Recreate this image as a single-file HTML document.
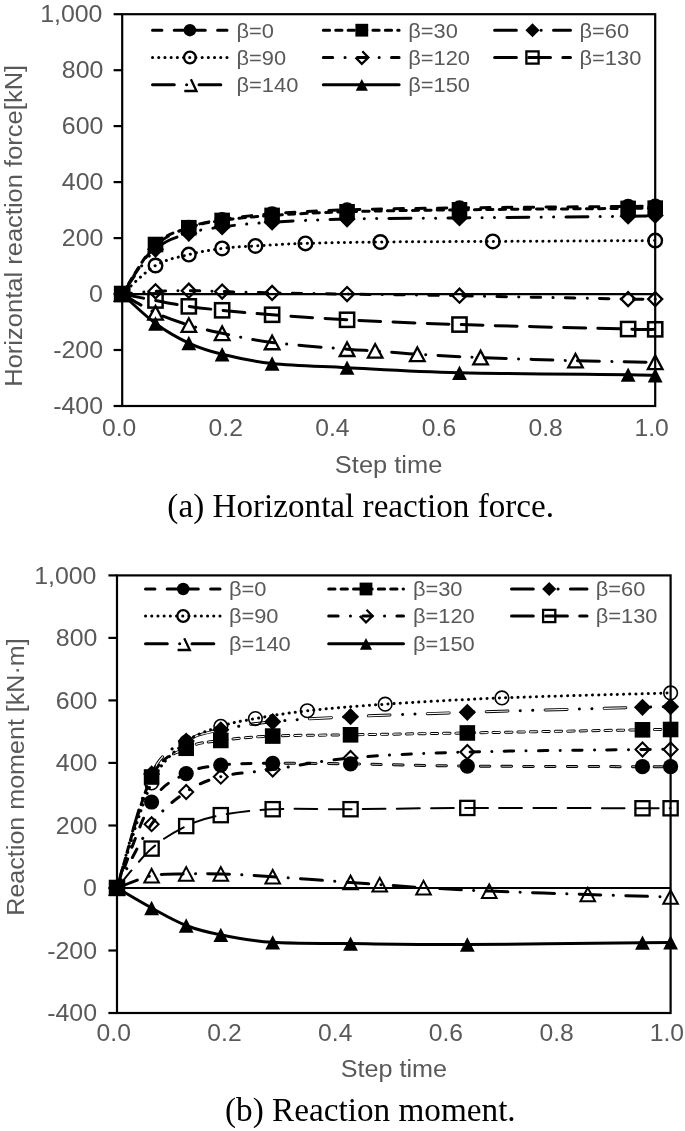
<!DOCTYPE html>
<html lang="en"><head><meta charset="utf-8"><title>Reaction force and moment</title>
<style>
html,body{margin:0;padding:0;background:#fff;}
body{width:685px;height:1131px;overflow:hidden;font-family:"Liberation Sans",sans-serif;}
svg{display:block;}
text{white-space:pre;}
</style></head><body>
<svg width="685" height="1131" viewBox="0 0 685 1131">
<rect width="685" height="1131" fill="#fff"/>
<g id="chart-a">
<rect x="122.2" y="14.2" width="533.0" height="391.8" fill="none" stroke="#000" stroke-width="2.2"/>
<line x1="113.6" y1="14.2" x2="122.2" y2="14.2" stroke="#000" stroke-width="2.2"/>
<text x="40.17" y="22.3" font-size="23.5" fill="#595959" font-family="'Liberation Sans', sans-serif" textLength="62.3" lengthAdjust="spacingAndGlyphs">1,000</text>
<line x1="113.6" y1="70.2" x2="122.2" y2="70.2" stroke="#000" stroke-width="2.2"/>
<text x="61.83" y="78.3" font-size="23.5" fill="#595959" font-family="'Liberation Sans', sans-serif" textLength="41.6" lengthAdjust="spacingAndGlyphs">800</text>
<line x1="113.6" y1="126.1" x2="122.2" y2="126.1" stroke="#000" stroke-width="2.2"/>
<text x="61.83" y="134.2" font-size="23.5" fill="#595959" font-family="'Liberation Sans', sans-serif" textLength="41.6" lengthAdjust="spacingAndGlyphs">600</text>
<line x1="113.6" y1="182.1" x2="122.2" y2="182.1" stroke="#000" stroke-width="2.2"/>
<text x="61.83" y="190.2" font-size="23.5" fill="#595959" font-family="'Liberation Sans', sans-serif" textLength="41.6" lengthAdjust="spacingAndGlyphs">400</text>
<line x1="113.6" y1="238.1" x2="122.2" y2="238.1" stroke="#000" stroke-width="2.2"/>
<text x="61.83" y="246.2" font-size="23.5" fill="#595959" font-family="'Liberation Sans', sans-serif" textLength="41.6" lengthAdjust="spacingAndGlyphs">200</text>
<line x1="113.6" y1="294.1" x2="122.2" y2="294.1" stroke="#000" stroke-width="2.2"/>
<text x="88.90" y="302.2" font-size="23.5" fill="#595959" font-family="'Liberation Sans', sans-serif" textLength="13.9" lengthAdjust="spacingAndGlyphs">0</text>
<line x1="113.6" y1="350.0" x2="122.2" y2="350.0" stroke="#000" stroke-width="2.2"/>
<text x="53.16" y="358.1" font-size="23.5" fill="#595959" font-family="'Liberation Sans', sans-serif" textLength="49.9" lengthAdjust="spacingAndGlyphs">-200</text>
<line x1="113.6" y1="406.0" x2="122.2" y2="406.0" stroke="#000" stroke-width="2.2"/>
<text x="53.16" y="414.1" font-size="23.5" fill="#595959" font-family="'Liberation Sans', sans-serif" textLength="49.9" lengthAdjust="spacingAndGlyphs">-400</text>
<text x="102.03" y="436.4" font-size="23.5" fill="#595959" font-family="'Liberation Sans', sans-serif" textLength="34.3" lengthAdjust="spacingAndGlyphs">0.0</text>
<text x="208.63" y="436.4" font-size="23.5" fill="#595959" font-family="'Liberation Sans', sans-serif" textLength="34.3" lengthAdjust="spacingAndGlyphs">0.2</text>
<text x="315.23" y="436.4" font-size="23.5" fill="#595959" font-family="'Liberation Sans', sans-serif" textLength="34.3" lengthAdjust="spacingAndGlyphs">0.4</text>
<text x="421.83" y="436.4" font-size="23.5" fill="#595959" font-family="'Liberation Sans', sans-serif" textLength="34.3" lengthAdjust="spacingAndGlyphs">0.6</text>
<text x="528.43" y="436.4" font-size="23.5" fill="#595959" font-family="'Liberation Sans', sans-serif" textLength="34.3" lengthAdjust="spacingAndGlyphs">0.8</text>
<text x="634.50" y="436.4" font-size="23.5" fill="#595959" font-family="'Liberation Sans', sans-serif" textLength="34.3" lengthAdjust="spacingAndGlyphs">1.0</text>
<line x1="122.2" y1="294.1" x2="655.2" y2="294.1" stroke="#000" stroke-width="2.2"/>
<text x="334.89" y="472.6" font-size="23" fill="#595959" font-family="'Liberation Sans', sans-serif" textLength="107.4" lengthAdjust="spacingAndGlyphs">Step time</text>
<text x="22.3" y="386.8" font-size="23" fill="#595959" font-family="'Liberation Sans', sans-serif" textLength="322.0" lengthAdjust="spacingAndGlyphs" transform="rotate(-90 22.3 386.8)">Horizontal reaction force[kN]</text>
<g fill="none" stroke="#000" stroke-width="3.0" stroke-linecap="round" stroke-dasharray="9.40 12.30"><path d="M122.20 294.06C127.75 286.03 144.41 257.02 155.51 245.92C166.62 234.82 177.72 231.84 188.82 227.45C199.93 223.07 208.26 221.90 222.14 219.62C236.02 217.33 251.29 215.37 272.11 213.74C292.93 212.11 315.83 210.80 347.06 209.82C378.29 208.84 412.64 208.42 459.49 207.86C506.33 207.30 595.52 206.74 628.13 206.46C660.75 206.18 650.69 206.23 655.20 206.18"/></g>
<circle cx="122.20" cy="294.06" r="7.60" fill="#000"/>
<circle cx="155.51" cy="245.92" r="7.60" fill="#000"/>
<circle cx="188.82" cy="227.45" r="7.60" fill="#000"/>
<circle cx="222.14" cy="219.62" r="7.60" fill="#000"/>
<circle cx="272.11" cy="213.74" r="7.60" fill="#000"/>
<circle cx="347.06" cy="209.82" r="7.60" fill="#000"/>
<circle cx="459.49" cy="207.86" r="7.60" fill="#000"/>
<circle cx="628.13" cy="206.46" r="7.60" fill="#000"/>
<circle cx="655.20" cy="206.18" r="7.60" fill="#000"/>
<g fill="none" stroke="#000" stroke-width="3.0" stroke-linecap="round" stroke-dasharray="6.30 6.10"><path d="M122.20 294.06C127.75 285.80 144.41 255.58 155.51 244.52C166.62 233.47 177.72 231.74 188.82 227.73C199.93 223.72 208.26 222.51 222.14 220.45C236.02 218.40 251.29 216.86 272.11 215.42C292.93 213.97 315.83 212.71 347.06 211.78C378.29 210.85 412.64 210.38 459.49 209.82C506.33 209.26 595.52 208.70 628.13 208.42C660.75 208.14 650.69 208.19 655.20 208.14"/></g>
<rect x="114.40" y="286.26" width="15.60" height="15.60" fill="#000"/>
<rect x="147.71" y="236.72" width="15.60" height="15.60" fill="#000"/>
<rect x="181.02" y="219.93" width="15.60" height="15.60" fill="#000"/>
<rect x="214.34" y="212.65" width="15.60" height="15.60" fill="#000"/>
<rect x="264.31" y="207.62" width="15.60" height="15.60" fill="#000"/>
<rect x="339.26" y="203.98" width="15.60" height="15.60" fill="#000"/>
<rect x="451.69" y="202.02" width="15.60" height="15.60" fill="#000"/>
<rect x="620.33" y="200.62" width="15.60" height="15.60" fill="#000"/>
<rect x="647.40" y="200.34" width="15.60" height="15.60" fill="#000"/>
<g fill="none" stroke="#000" stroke-width="3.0" stroke-linecap="round" stroke-dasharray="21.80 12.30 0.10 12.30 0.10 12.30"><path d="M122.20 294.06C127.75 286.59 144.41 259.40 155.51 249.28C166.62 239.16 177.72 237.06 188.82 233.33C199.93 229.60 208.26 228.76 222.14 226.89C236.02 225.03 251.29 223.44 272.11 222.13C292.93 220.83 315.83 219.76 347.06 219.06C378.29 218.36 412.64 218.40 459.49 217.94C506.33 217.47 595.52 216.68 628.13 216.26C660.75 215.84 650.69 215.56 655.20 215.42"/></g>
<path d="M113.60 294.06L122.20 285.46L130.80 294.06L122.20 302.66Z" fill="#000"/>
<path d="M146.91 249.28L155.51 240.68L164.11 249.28L155.51 257.88Z" fill="#000"/>
<path d="M180.22 233.33L188.82 224.73L197.42 233.33L188.82 241.93Z" fill="#000"/>
<path d="M213.54 226.89L222.14 218.29L230.74 226.89L222.14 235.49Z" fill="#000"/>
<path d="M263.51 222.13L272.11 213.53L280.71 222.13L272.11 230.73Z" fill="#000"/>
<path d="M338.46 219.06L347.06 210.46L355.66 219.06L347.06 227.66Z" fill="#000"/>
<path d="M450.89 217.94L459.49 209.34L468.09 217.94L459.49 226.54Z" fill="#000"/>
<path d="M619.53 216.26L628.13 207.66L636.73 216.26L628.13 224.86Z" fill="#000"/>
<path d="M646.60 215.42L655.20 206.82L663.80 215.42L655.20 224.02Z" fill="#000"/>
<g fill="none" stroke="#000" stroke-width="3.0" stroke-linecap="round" stroke-dasharray="0.10 6.10"><path d="M122.20 294.06C127.75 289.30 144.41 272.09 155.51 265.51C166.62 258.94 177.72 257.44 188.82 254.60C199.93 251.75 211.03 249.89 222.14 248.44C233.24 246.99 241.57 246.76 255.45 245.92C269.33 245.08 284.60 244.06 305.42 243.40C326.24 242.75 349.14 242.33 380.37 242.00C411.60 241.68 447.00 241.68 492.80 241.44C538.61 241.21 628.13 240.74 655.20 240.60"/></g>
<circle cx="122.20" cy="294.06" r="6.80" fill="none" stroke="#000" stroke-width="2.4"/>
<circle cx="155.51" cy="265.51" r="6.80" fill="none" stroke="#000" stroke-width="2.4"/>
<circle cx="188.82" cy="254.60" r="6.80" fill="none" stroke="#000" stroke-width="2.4"/>
<circle cx="222.14" cy="248.44" r="6.80" fill="none" stroke="#000" stroke-width="2.4"/>
<circle cx="255.45" cy="245.92" r="6.80" fill="none" stroke="#000" stroke-width="2.4"/>
<circle cx="305.42" cy="243.40" r="6.80" fill="none" stroke="#000" stroke-width="2.4"/>
<circle cx="380.37" cy="242.00" r="6.80" fill="none" stroke="#000" stroke-width="2.4"/>
<circle cx="492.80" cy="241.44" r="6.80" fill="none" stroke="#000" stroke-width="2.4"/>
<circle cx="655.20" cy="240.60" r="6.80" fill="none" stroke="#000" stroke-width="2.4"/>
<g fill="none" stroke="#000" stroke-width="3.0" stroke-linecap="round" stroke-dasharray="9.40 12.30 0.10 12.30"><path d="M122.20 294.06C127.75 293.59 144.41 291.82 155.51 291.26C166.62 290.70 177.72 290.65 188.82 290.70C199.93 290.75 208.26 291.17 222.14 291.54C236.02 291.91 251.29 292.52 272.11 292.94C292.93 293.36 315.83 293.59 347.06 294.06C378.29 294.52 412.64 294.90 459.49 295.74C506.33 296.58 595.52 298.53 628.13 299.09C660.75 299.65 650.69 299.09 655.20 299.09"/></g>
<path d="M115.20 294.06L122.20 287.06L129.20 294.06L122.20 301.06Z" fill="none" stroke="#000" stroke-width="2.3"/>
<path d="M148.51 291.26L155.51 284.26L162.51 291.26L155.51 298.26Z" fill="none" stroke="#000" stroke-width="2.3"/>
<path d="M181.82 290.70L188.82 283.70L195.82 290.70L188.82 297.70Z" fill="none" stroke="#000" stroke-width="2.3"/>
<path d="M215.14 291.54L222.14 284.54L229.14 291.54L222.14 298.54Z" fill="none" stroke="#000" stroke-width="2.3"/>
<path d="M265.11 292.94L272.11 285.94L279.11 292.94L272.11 299.94Z" fill="none" stroke="#000" stroke-width="2.3"/>
<path d="M340.06 294.06L347.06 287.06L354.06 294.06L347.06 301.06Z" fill="none" stroke="#000" stroke-width="2.3"/>
<path d="M452.49 295.74L459.49 288.74L466.49 295.74L459.49 302.74Z" fill="none" stroke="#000" stroke-width="2.3"/>
<path d="M621.13 299.09L628.13 292.09L635.13 299.09L628.13 306.09Z" fill="none" stroke="#000" stroke-width="2.3"/>
<path d="M648.20 299.09L655.20 292.09L662.20 299.09L655.20 306.09Z" fill="none" stroke="#000" stroke-width="2.3"/>
<g fill="none" stroke="#000" stroke-width="3.0" stroke-linecap="round" stroke-dasharray="21.80 12.30"><path d="M122.20 294.06C127.75 295.13 144.41 298.44 155.51 300.49C166.62 302.55 177.72 304.74 188.82 306.37C199.93 308.00 208.26 308.89 222.14 310.29C236.02 311.69 251.29 313.18 272.11 314.77C292.93 316.35 315.83 318.17 347.06 319.80C378.29 321.44 412.64 323.02 459.49 324.56C506.33 326.10 595.52 328.25 628.13 329.04C660.75 329.83 650.69 329.27 655.20 329.32"/></g>
<rect x="115.10" y="286.96" width="14.20" height="14.20" fill="none" stroke="#000" stroke-width="2.5"/>
<rect x="148.41" y="293.39" width="14.20" height="14.20" fill="none" stroke="#000" stroke-width="2.5"/>
<rect x="181.72" y="299.27" width="14.20" height="14.20" fill="none" stroke="#000" stroke-width="2.5"/>
<rect x="215.04" y="303.19" width="14.20" height="14.20" fill="none" stroke="#000" stroke-width="2.5"/>
<rect x="265.01" y="307.67" width="14.20" height="14.20" fill="none" stroke="#000" stroke-width="2.5"/>
<rect x="339.96" y="312.70" width="14.20" height="14.20" fill="none" stroke="#000" stroke-width="2.5"/>
<rect x="452.39" y="317.46" width="14.20" height="14.20" fill="none" stroke="#000" stroke-width="2.5"/>
<rect x="621.03" y="321.94" width="14.20" height="14.20" fill="none" stroke="#000" stroke-width="2.5"/>
<rect x="648.10" y="322.22" width="14.20" height="14.20" fill="none" stroke="#000" stroke-width="2.5"/>
<g fill="none" stroke="#000" stroke-width="3.0" stroke-linecap="round" stroke-dasharray="21.80 12.30 0.10 12.30"><path d="M122.20 294.06C127.75 297.18 144.41 307.63 155.51 312.81C166.62 317.98 177.72 321.72 188.82 325.12C199.93 328.53 208.26 330.35 222.14 333.24C236.02 336.13 251.29 339.81 272.11 342.47C292.93 345.13 329.88 347.79 347.06 349.19C364.24 350.59 363.45 350.03 375.16 350.87C386.87 351.71 399.75 353.11 417.32 354.23C434.89 355.35 454.23 356.51 480.59 357.58C506.95 358.66 546.36 359.87 575.46 360.66C604.57 361.46 641.91 362.06 655.20 362.34"/></g>
<path d="M114.90 300.86L122.20 287.26L129.50 300.86Z" fill="none" stroke="#000" stroke-width="2.3" stroke-linejoin="miter"/>
<path d="M148.21 319.61L155.51 306.01L162.81 319.61Z" fill="none" stroke="#000" stroke-width="2.3" stroke-linejoin="miter"/>
<path d="M181.52 331.92L188.82 318.32L196.12 331.92Z" fill="none" stroke="#000" stroke-width="2.3" stroke-linejoin="miter"/>
<path d="M214.84 340.04L222.14 326.44L229.44 340.04Z" fill="none" stroke="#000" stroke-width="2.3" stroke-linejoin="miter"/>
<path d="M264.81 349.27L272.11 335.67L279.41 349.27Z" fill="none" stroke="#000" stroke-width="2.3" stroke-linejoin="miter"/>
<path d="M339.76 355.99L347.06 342.39L354.36 355.99Z" fill="none" stroke="#000" stroke-width="2.3" stroke-linejoin="miter"/>
<path d="M367.86 357.67L375.16 344.07L382.46 357.67Z" fill="none" stroke="#000" stroke-width="2.3" stroke-linejoin="miter"/>
<path d="M410.02 361.03L417.32 347.43L424.62 361.03Z" fill="none" stroke="#000" stroke-width="2.3" stroke-linejoin="miter"/>
<path d="M473.29 364.38L480.59 350.78L487.89 364.38Z" fill="none" stroke="#000" stroke-width="2.3" stroke-linejoin="miter"/>
<path d="M568.16 367.46L575.46 353.86L582.76 367.46Z" fill="none" stroke="#000" stroke-width="2.3" stroke-linejoin="miter"/>
<path d="M647.90 369.14L655.20 355.54L662.50 369.14Z" fill="none" stroke="#000" stroke-width="2.3" stroke-linejoin="miter"/>
<g fill="none" stroke="#000" stroke-width="3.0" stroke-linecap="round"><path d="M122.20 294.06C127.75 298.95 144.41 315.28 155.51 323.44C166.62 331.60 177.72 337.90 188.82 343.03C199.93 348.16 208.26 350.82 222.14 354.23C236.02 357.63 251.29 361.22 272.11 363.46C292.93 365.70 315.83 366.12 347.06 367.66C378.29 369.20 412.64 371.53 459.49 372.70C506.33 373.86 595.52 374.24 628.13 374.66C660.75 375.08 650.69 375.12 655.20 375.22"/></g>
<path d="M114.80 301.26L122.20 286.86L129.60 301.26Z" fill="#000"/>
<path d="M148.11 330.64L155.51 316.24L162.91 330.64Z" fill="#000"/>
<path d="M181.42 350.23L188.82 335.83L196.22 350.23Z" fill="#000"/>
<path d="M214.74 361.43L222.14 347.03L229.54 361.43Z" fill="#000"/>
<path d="M264.71 370.66L272.11 356.26L279.51 370.66Z" fill="#000"/>
<path d="M339.66 374.86L347.06 360.46L354.46 374.86Z" fill="#000"/>
<path d="M452.09 379.90L459.49 365.50L466.89 379.90Z" fill="#000"/>
<path d="M620.73 381.86L628.13 367.46L635.53 381.86Z" fill="#000"/>
<path d="M647.80 382.42L655.20 368.02L662.60 382.42Z" fill="#000"/>
<line x1="152.50" y1="30.20" x2="227.00" y2="30.20" stroke="#000" stroke-width="3.0" stroke-linecap="round" stroke-dasharray="9.40 12.30"/>
<circle cx="189.90" cy="30.20" r="6.23" fill="#000"/>
<text x="236.51" y="37.6" font-size="21" fill="#595959" font-family="'Liberation Sans', sans-serif" textLength="37.5" lengthAdjust="spacingAndGlyphs">β=0</text>
<line x1="323.30" y1="30.20" x2="399.10" y2="30.20" stroke="#000" stroke-width="3.0" stroke-linecap="round" stroke-dasharray="6.30 6.10"/>
<rect x="355.40" y="23.80" width="12.79" height="12.79" fill="#000"/>
<text x="408.21" y="37.6" font-size="21" fill="#595959" font-family="'Liberation Sans', sans-serif" textLength="49.6" lengthAdjust="spacingAndGlyphs">β=30</text>
<line x1="494.60" y1="30.20" x2="570.50" y2="30.20" stroke="#000" stroke-width="3.0" stroke-linecap="round" stroke-dasharray="21.80 12.30 0.10 12.30 0.10 12.30"/>
<path d="M525.45 30.20L532.50 23.15L539.55 30.20L532.50 37.25Z" fill="#000"/>
<text x="579.51" y="37.6" font-size="21" fill="#595959" font-family="'Liberation Sans', sans-serif" textLength="49.6" lengthAdjust="spacingAndGlyphs">β=60</text>
<line x1="152.50" y1="57.50" x2="227.00" y2="57.50" stroke="#000" stroke-width="3.0" stroke-linecap="round" stroke-dasharray="0.10 6.10"/>
<circle cx="189.90" cy="57.50" r="5.85" fill="none" stroke="#000" stroke-width="2.3"/>
<text x="236.51" y="64.9" font-size="21" fill="#595959" font-family="'Liberation Sans', sans-serif" textLength="49.6" lengthAdjust="spacingAndGlyphs">β=90</text>
<line x1="323.30" y1="57.50" x2="399.10" y2="57.50" stroke="#000" stroke-width="3.0" stroke-linecap="round" stroke-dasharray="9.40 12.30 0.10 12.30"/>
<path d="M362.3 51.2L368.4 57.5L361.8 63.8L355.5 57.5" fill="none" stroke="#000" stroke-width="2.3" stroke-linejoin="miter"/>
<text x="408.21" y="64.9" font-size="21" fill="#595959" font-family="'Liberation Sans', sans-serif" textLength="61.8" lengthAdjust="spacingAndGlyphs">β=120</text>
<line x1="494.60" y1="57.50" x2="570.50" y2="57.50" stroke="#000" stroke-width="3.0" stroke-linecap="round" stroke-dasharray="21.80 12.30"/>
<rect x="526.39" y="51.39" width="12.21" height="12.21" fill="none" stroke="#000" stroke-width="2.3"/>
<text x="579.51" y="64.9" font-size="21" fill="#595959" font-family="'Liberation Sans', sans-serif" textLength="61.8" lengthAdjust="spacingAndGlyphs">β=130</text>
<line x1="152.50" y1="84.80" x2="227.00" y2="84.80" stroke="#000" stroke-width="3.0" stroke-linecap="round" stroke-dasharray="21.80 12.30 0.10 12.30"/>
<path d="M190.9 79.2L196.5 91.0L184.3 91.0" fill="none" stroke="#000" stroke-width="2.3" stroke-linejoin="miter"/>
<text x="236.51" y="92.2" font-size="21" fill="#595959" font-family="'Liberation Sans', sans-serif" textLength="61.8" lengthAdjust="spacingAndGlyphs">β=140</text>
<line x1="323.30" y1="84.80" x2="399.10" y2="84.80" stroke="#000" stroke-width="3.0" stroke-linecap="round"/>
<path d="M355.73 90.70L361.80 78.90L367.87 90.70Z" fill="#000"/>
<text x="408.21" y="92.2" font-size="21" fill="#595959" font-family="'Liberation Sans', sans-serif" textLength="61.8" lengthAdjust="spacingAndGlyphs">β=150</text>
<text x="167.39" y="516.8" font-size="32.8" fill="#000" font-family="'Liberation Serif', serif" textLength="386.7" lengthAdjust="spacingAndGlyphs">(a) Horizontal reaction force.</text>
</g>
<g id="chart-b">
<rect x="117.0" y="575.4" width="553.6" height="437.6" fill="none" stroke="#000" stroke-width="2.2"/>
<line x1="108.4" y1="575.4" x2="117.0" y2="575.4" stroke="#000" stroke-width="2.2"/>
<text x="34.17" y="583.5" font-size="23.5" fill="#595959" font-family="'Liberation Sans', sans-serif" textLength="62.3" lengthAdjust="spacingAndGlyphs">1,000</text>
<line x1="108.4" y1="637.9" x2="117.0" y2="637.9" stroke="#000" stroke-width="2.2"/>
<text x="55.83" y="646.0" font-size="23.5" fill="#595959" font-family="'Liberation Sans', sans-serif" textLength="41.6" lengthAdjust="spacingAndGlyphs">800</text>
<line x1="108.4" y1="700.4" x2="117.0" y2="700.4" stroke="#000" stroke-width="2.2"/>
<text x="55.83" y="708.5" font-size="23.5" fill="#595959" font-family="'Liberation Sans', sans-serif" textLength="41.6" lengthAdjust="spacingAndGlyphs">600</text>
<line x1="108.4" y1="762.9" x2="117.0" y2="762.9" stroke="#000" stroke-width="2.2"/>
<text x="55.83" y="771.0" font-size="23.5" fill="#595959" font-family="'Liberation Sans', sans-serif" textLength="41.6" lengthAdjust="spacingAndGlyphs">400</text>
<line x1="108.4" y1="825.5" x2="117.0" y2="825.5" stroke="#000" stroke-width="2.2"/>
<text x="55.83" y="833.6" font-size="23.5" fill="#595959" font-family="'Liberation Sans', sans-serif" textLength="41.6" lengthAdjust="spacingAndGlyphs">200</text>
<line x1="108.4" y1="888.0" x2="117.0" y2="888.0" stroke="#000" stroke-width="2.2"/>
<text x="82.90" y="896.1" font-size="23.5" fill="#595959" font-family="'Liberation Sans', sans-serif" textLength="13.9" lengthAdjust="spacingAndGlyphs">0</text>
<line x1="108.4" y1="950.5" x2="117.0" y2="950.5" stroke="#000" stroke-width="2.2"/>
<text x="47.16" y="958.6" font-size="23.5" fill="#595959" font-family="'Liberation Sans', sans-serif" textLength="49.9" lengthAdjust="spacingAndGlyphs">-200</text>
<line x1="108.4" y1="1013.0" x2="117.0" y2="1013.0" stroke="#000" stroke-width="2.2"/>
<text x="47.16" y="1021.1" font-size="23.5" fill="#595959" font-family="'Liberation Sans', sans-serif" textLength="49.9" lengthAdjust="spacingAndGlyphs">-400</text>
<text x="96.63" y="1040.6" font-size="23.5" fill="#595959" font-family="'Liberation Sans', sans-serif" textLength="34.3" lengthAdjust="spacingAndGlyphs">0.0</text>
<text x="207.35" y="1040.6" font-size="23.5" fill="#595959" font-family="'Liberation Sans', sans-serif" textLength="34.3" lengthAdjust="spacingAndGlyphs">0.2</text>
<text x="318.07" y="1040.6" font-size="23.5" fill="#595959" font-family="'Liberation Sans', sans-serif" textLength="34.3" lengthAdjust="spacingAndGlyphs">0.4</text>
<text x="428.79" y="1040.6" font-size="23.5" fill="#595959" font-family="'Liberation Sans', sans-serif" textLength="34.3" lengthAdjust="spacingAndGlyphs">0.6</text>
<text x="539.51" y="1040.6" font-size="23.5" fill="#595959" font-family="'Liberation Sans', sans-serif" textLength="34.3" lengthAdjust="spacingAndGlyphs">0.8</text>
<text x="649.70" y="1040.6" font-size="23.5" fill="#595959" font-family="'Liberation Sans', sans-serif" textLength="34.3" lengthAdjust="spacingAndGlyphs">1.0</text>
<line x1="117.0" y1="888.0" x2="670.6" y2="888.0" stroke="#000" stroke-width="2.2"/>
<text x="340.71" y="1077.2" font-size="23" fill="#595959" font-family="'Liberation Sans', sans-serif" textLength="106.4" lengthAdjust="spacingAndGlyphs">Step time</text>
<text x="23.8" y="915.7" font-size="23" fill="#595959" font-family="'Liberation Sans', sans-serif" textLength="277.4" lengthAdjust="spacingAndGlyphs" transform="rotate(-90 23.8 915.7)">Reaction moment [kN·m]</text>
<g fill="none" stroke="#000" stroke-width="3.0" stroke-linecap="round" stroke-dasharray="9.40 12.30"><path d="M117.00 887.97C122.77 873.65 140.07 821.08 151.60 802.01C163.13 782.95 174.67 779.72 186.20 773.57C197.73 767.42 206.38 766.85 220.80 765.13C235.22 763.41 251.08 763.46 272.70 763.26C294.33 763.05 318.11 763.41 350.55 763.88C382.99 764.35 418.67 765.60 467.32 766.07C515.98 766.54 608.61 766.59 642.49 766.69C676.37 766.80 665.91 766.69 670.60 766.69"/></g>
<clipPath id="bhb0"><rect x="277.5" y="575.4" width="393.1" height="437.6"/></clipPath>
<path d="M117.00 887.97C122.77 873.65 140.07 821.08 151.60 802.01C163.13 782.95 174.67 779.72 186.20 773.57C197.73 767.42 206.38 766.85 220.80 765.13C235.22 763.41 251.08 763.46 272.70 763.26C294.33 763.05 318.11 763.41 350.55 763.88C382.99 764.35 418.67 765.60 467.32 766.07C515.98 766.54 608.61 766.59 642.49 766.69C676.37 766.80 665.91 766.69 670.60 766.69" fill="none" stroke="#aaa" stroke-width="1.0" stroke-dasharray="10.40 11.30" stroke-dashoffset="0.50" clip-path="url(#bhb0)"/>
<circle cx="117.00" cy="887.97" r="7.60" fill="#000"/>
<circle cx="151.60" cy="802.01" r="7.60" fill="#000"/>
<circle cx="186.20" cy="773.57" r="7.60" fill="#000"/>
<circle cx="220.80" cy="765.13" r="7.60" fill="#000"/>
<circle cx="272.70" cy="763.26" r="7.60" fill="#000"/>
<circle cx="350.55" cy="763.88" r="7.60" fill="#000"/>
<circle cx="467.32" cy="766.07" r="7.60" fill="#000"/>
<circle cx="642.49" cy="766.69" r="7.60" fill="#000"/>
<circle cx="670.60" cy="766.69" r="7.60" fill="#000"/>
<g fill="none" stroke="#000" stroke-width="3.0" stroke-linecap="round" stroke-dasharray="6.30 6.10"><path d="M117.00 887.97C122.77 869.48 140.07 800.30 151.60 777.01C163.13 753.72 174.67 754.35 186.20 748.25C197.73 742.16 206.38 742.47 220.80 740.44C235.22 738.41 251.08 737.00 272.70 736.06C294.33 735.12 318.11 735.33 350.55 734.81C382.99 734.29 418.67 733.77 467.32 732.94C515.98 732.10 608.61 730.38 642.49 729.81C676.37 729.24 665.91 729.55 670.60 729.50"/></g>
<clipPath id="bhb30"><rect x="172.4" y="575.4" width="498.2" height="437.6"/></clipPath>
<path d="M117.00 887.97C122.77 869.48 140.07 800.30 151.60 777.01C163.13 753.72 174.67 754.35 186.20 748.25C197.73 742.16 206.38 742.47 220.80 740.44C235.22 738.41 251.08 737.00 272.70 736.06C294.33 735.12 318.11 735.33 350.55 734.81C382.99 734.29 418.67 733.77 467.32 732.94C515.98 732.10 608.61 730.38 642.49 729.81C676.37 729.24 665.91 729.55 670.60 729.50" fill="none" stroke="#fff" stroke-width="1.1" stroke-dasharray="7.50 4.90" stroke-dashoffset="0.60" clip-path="url(#bhb30)"/>
<rect x="109.20" y="880.17" width="15.60" height="15.60" fill="#000"/>
<rect x="143.80" y="769.21" width="15.60" height="15.60" fill="#000"/>
<rect x="178.40" y="740.45" width="15.60" height="15.60" fill="#000"/>
<rect x="213.00" y="732.64" width="15.60" height="15.60" fill="#000"/>
<rect x="264.90" y="728.26" width="15.60" height="15.60" fill="#000"/>
<rect x="342.75" y="727.01" width="15.60" height="15.60" fill="#000"/>
<rect x="459.52" y="725.14" width="15.60" height="15.60" fill="#000"/>
<rect x="634.69" y="722.01" width="15.60" height="15.60" fill="#000"/>
<rect x="662.80" y="721.70" width="15.60" height="15.60" fill="#000"/>
<g fill="none" stroke="#000" stroke-width="3.0" stroke-linecap="round" stroke-dasharray="21.80 12.30 0.10 12.30 0.10 12.30"><path d="M117.00 887.97C122.77 868.96 140.07 798.37 151.60 773.88C163.13 749.40 174.67 748.41 186.20 741.06C197.73 733.72 206.38 733.04 220.80 729.81C235.22 726.58 251.08 723.87 272.70 721.68C294.33 719.50 318.11 718.25 350.55 716.68C382.99 715.12 418.67 713.87 467.32 712.31C515.98 710.74 608.61 708.24 642.49 707.31C676.37 706.37 665.91 706.78 670.60 706.68"/></g>
<clipPath id="bhb60"><rect x="155.8" y="575.4" width="514.8" height="437.6"/></clipPath>
<path d="M117.00 887.97C122.77 868.96 140.07 798.37 151.60 773.88C163.13 749.40 174.67 748.41 186.20 741.06C197.73 733.72 206.38 733.04 220.80 729.81C235.22 726.58 251.08 723.87 272.70 721.68C294.33 719.50 318.11 718.25 350.55 716.68C382.99 715.12 418.67 713.87 467.32 712.31C515.98 710.74 608.61 708.24 642.49 707.31C676.37 706.37 665.91 706.78 670.60 706.68" fill="none" stroke="#fff" stroke-width="1.1" stroke-dasharray="23.00 35.90" stroke-dashoffset="0.60" clip-path="url(#bhb60)"/>
<path d="M108.40 887.97L117.00 879.37L125.60 887.97L117.00 896.57Z" fill="#000"/>
<path d="M143.00 773.88L151.60 765.28L160.20 773.88L151.60 782.48Z" fill="#000"/>
<path d="M177.60 741.06L186.20 732.46L194.80 741.06L186.20 749.66Z" fill="#000"/>
<path d="M212.20 729.81L220.80 721.21L229.40 729.81L220.80 738.41Z" fill="#000"/>
<path d="M264.10 721.68L272.70 713.08L281.30 721.68L272.70 730.28Z" fill="#000"/>
<path d="M341.95 716.68L350.55 708.08L359.15 716.68L350.55 725.28Z" fill="#000"/>
<path d="M458.72 712.31L467.32 703.71L475.93 712.31L467.32 720.91Z" fill="#000"/>
<path d="M633.89 707.31L642.49 698.71L651.09 707.31L642.49 715.91Z" fill="#000"/>
<path d="M662.00 706.68L670.60 698.08L679.20 706.68L670.60 715.28Z" fill="#000"/>
<g fill="none" stroke="#000" stroke-width="3.0" stroke-linecap="round" stroke-dasharray="0.10 6.10"><path d="M117.00 887.97C122.77 870.47 140.07 807.22 151.60 782.95C163.13 758.67 174.67 751.74 186.20 742.31C197.73 732.88 209.27 730.33 220.80 726.37C232.33 722.41 240.98 721.16 255.40 718.56C269.82 715.95 285.68 713.14 307.30 710.74C328.93 708.35 352.71 706.32 385.15 704.18C417.59 702.04 454.35 699.80 501.93 697.93C549.50 696.05 642.49 693.76 670.60 692.93"/></g>
<circle cx="117.00" cy="887.97" r="6.80" fill="none" stroke="#000" stroke-width="1.6"/>
<circle cx="151.60" cy="782.95" r="6.80" fill="none" stroke="#000" stroke-width="1.6"/>
<circle cx="186.20" cy="742.31" r="6.80" fill="none" stroke="#000" stroke-width="1.6"/>
<circle cx="220.80" cy="726.37" r="6.80" fill="none" stroke="#000" stroke-width="1.6"/>
<circle cx="255.40" cy="718.56" r="6.80" fill="none" stroke="#000" stroke-width="1.6"/>
<circle cx="307.30" cy="710.74" r="6.80" fill="none" stroke="#000" stroke-width="1.6"/>
<circle cx="385.15" cy="704.18" r="6.80" fill="none" stroke="#000" stroke-width="1.6"/>
<circle cx="501.93" cy="697.93" r="6.80" fill="none" stroke="#000" stroke-width="1.6"/>
<circle cx="670.60" cy="692.93" r="6.80" fill="none" stroke="#000" stroke-width="1.6"/>
<g fill="none" stroke="#000" stroke-width="3.0" stroke-linecap="round" stroke-dasharray="9.40 12.30 0.10 12.30"><path d="M117.00 887.97C122.77 877.34 140.07 840.20 151.60 824.21C163.13 808.21 174.67 799.93 186.20 792.01C197.73 784.09 206.38 780.45 220.80 776.70C235.22 772.95 251.08 772.63 272.70 769.51C294.33 766.38 318.11 760.86 350.55 757.94C382.99 755.02 418.67 753.41 467.32 752.00C515.98 750.60 608.61 749.92 642.49 749.50C676.37 749.09 665.91 749.50 670.60 749.50"/></g>
<path d="M110.00 887.97L117.00 880.97L124.00 887.97L117.00 894.97Z" fill="none" stroke="#000" stroke-width="2.0"/>
<path d="M144.60 824.21L151.60 817.21L158.60 824.21L151.60 831.21Z" fill="none" stroke="#000" stroke-width="2.0"/>
<path d="M179.20 792.01L186.20 785.01L193.20 792.01L186.20 799.01Z" fill="none" stroke="#000" stroke-width="2.0"/>
<path d="M213.80 776.70L220.80 769.70L227.80 776.70L220.80 783.70Z" fill="none" stroke="#000" stroke-width="2.0"/>
<path d="M265.70 769.51L272.70 762.51L279.70 769.51L272.70 776.51Z" fill="none" stroke="#000" stroke-width="2.0"/>
<path d="M343.55 757.94L350.55 750.94L357.55 757.94L350.55 764.94Z" fill="none" stroke="#000" stroke-width="2.0"/>
<path d="M460.32 752.00L467.32 745.00L474.32 752.00L467.32 759.00Z" fill="none" stroke="#000" stroke-width="2.0"/>
<path d="M635.49 749.50L642.49 742.50L649.49 749.50L642.49 756.50Z" fill="none" stroke="#000" stroke-width="2.0"/>
<path d="M663.60 749.50L670.60 742.50L677.60 749.50L670.60 756.50Z" fill="none" stroke="#000" stroke-width="2.0"/>
<g fill="none" stroke="#000" stroke-width="2.0" stroke-linecap="round" stroke-dasharray="22.80 11.30"><path d="M117.00 887.97C122.77 881.41 140.07 858.90 151.60 848.59C163.13 838.27 174.67 831.66 186.20 826.08C197.73 820.51 206.38 817.96 220.80 815.14C235.22 812.33 251.08 810.19 272.70 809.20C294.33 808.21 318.11 809.41 350.55 809.20C382.99 809.00 418.67 808.11 467.32 807.95C515.98 807.80 608.61 808.21 642.49 808.27C676.37 808.32 665.91 808.27 670.60 808.27"/></g>
<rect x="109.90" y="880.87" width="14.20" height="14.20" fill="none" stroke="#000" stroke-width="2.3"/>
<rect x="144.50" y="841.49" width="14.20" height="14.20" fill="none" stroke="#000" stroke-width="2.3"/>
<rect x="179.10" y="818.98" width="14.20" height="14.20" fill="none" stroke="#000" stroke-width="2.3"/>
<rect x="213.70" y="808.04" width="14.20" height="14.20" fill="none" stroke="#000" stroke-width="2.3"/>
<rect x="265.60" y="802.10" width="14.20" height="14.20" fill="none" stroke="#000" stroke-width="2.3"/>
<rect x="343.45" y="802.10" width="14.20" height="14.20" fill="none" stroke="#000" stroke-width="2.3"/>
<rect x="460.22" y="800.85" width="14.20" height="14.20" fill="none" stroke="#000" stroke-width="2.3"/>
<rect x="635.39" y="801.17" width="14.20" height="14.20" fill="none" stroke="#000" stroke-width="2.3"/>
<rect x="663.50" y="801.17" width="14.20" height="14.20" fill="none" stroke="#000" stroke-width="2.3"/>
<g fill="none" stroke="#000" stroke-width="3.0" stroke-linecap="round" stroke-dasharray="21.80 12.30 0.10 12.30"><path d="M117.00 887.97C122.77 885.94 140.07 878.13 151.60 875.78C163.13 873.44 174.67 874.22 186.20 873.91C197.73 873.59 206.38 873.44 220.80 873.91C235.22 874.37 251.08 875.29 272.70 876.72C294.33 878.15 332.71 881.15 350.55 882.47C368.39 883.79 367.58 883.76 379.74 884.63C391.90 885.49 405.28 886.58 423.53 887.66C441.78 888.74 461.87 889.95 489.24 891.10C516.62 892.24 557.55 893.55 587.78 894.54C618.01 895.53 656.80 896.62 670.60 897.04"/></g>
<path d="M109.70 894.77L117.00 881.17L124.30 894.77Z" fill="none" stroke="#000" stroke-width="2.0" stroke-linejoin="miter"/>
<path d="M144.30 882.58L151.60 868.98L158.90 882.58Z" fill="none" stroke="#000" stroke-width="2.0" stroke-linejoin="miter"/>
<path d="M178.90 880.71L186.20 867.11L193.50 880.71Z" fill="none" stroke="#000" stroke-width="2.0" stroke-linejoin="miter"/>
<path d="M213.50 880.71L220.80 867.11L228.10 880.71Z" fill="none" stroke="#000" stroke-width="2.0" stroke-linejoin="miter"/>
<path d="M265.40 883.52L272.70 869.92L280.00 883.52Z" fill="none" stroke="#000" stroke-width="2.0" stroke-linejoin="miter"/>
<path d="M343.25 889.27L350.55 875.67L357.85 889.27Z" fill="none" stroke="#000" stroke-width="2.0" stroke-linejoin="miter"/>
<path d="M372.44 891.43L379.74 877.83L387.04 891.43Z" fill="none" stroke="#000" stroke-width="2.0" stroke-linejoin="miter"/>
<path d="M416.23 894.46L423.53 880.86L430.83 894.46Z" fill="none" stroke="#000" stroke-width="2.0" stroke-linejoin="miter"/>
<path d="M481.94 897.90L489.24 884.30L496.54 897.90Z" fill="none" stroke="#000" stroke-width="2.0" stroke-linejoin="miter"/>
<path d="M580.48 901.34L587.78 887.74L595.08 901.34Z" fill="none" stroke="#000" stroke-width="2.0" stroke-linejoin="miter"/>
<path d="M663.30 903.84L670.60 890.24L677.90 903.84Z" fill="none" stroke="#000" stroke-width="2.0" stroke-linejoin="miter"/>
<g fill="none" stroke="#000" stroke-width="3.0" stroke-linecap="round"><path d="M117.00 887.97C122.77 891.31 140.07 901.72 151.60 907.98C163.13 914.23 174.67 921.00 186.20 925.48C197.73 929.96 206.38 932.04 220.80 934.86C235.22 937.67 251.08 940.90 272.70 942.36C294.33 943.82 318.11 943.24 350.55 943.61C382.99 943.97 418.67 944.70 467.32 944.55C515.98 944.39 608.61 943.04 642.49 942.67C676.37 942.31 665.91 942.41 670.60 942.36"/></g>
<path d="M109.60 895.17L117.00 880.77L124.40 895.17Z" fill="#000"/>
<path d="M144.20 915.18L151.60 900.78L159.00 915.18Z" fill="#000"/>
<path d="M178.80 932.68L186.20 918.28L193.60 932.68Z" fill="#000"/>
<path d="M213.40 942.06L220.80 927.66L228.20 942.06Z" fill="#000"/>
<path d="M265.30 949.56L272.70 935.16L280.10 949.56Z" fill="#000"/>
<path d="M343.15 950.81L350.55 936.41L357.95 950.81Z" fill="#000"/>
<path d="M459.93 951.75L467.32 937.35L474.72 951.75Z" fill="#000"/>
<path d="M635.09 949.87L642.49 935.47L649.89 949.87Z" fill="#000"/>
<path d="M663.20 949.56L670.60 935.16L678.00 949.56Z" fill="#000"/>
<line x1="145.50" y1="589.00" x2="220.00" y2="589.00" stroke="#000" stroke-width="3.0" stroke-linecap="round" stroke-dasharray="9.40 12.30"/>
<circle cx="183.20" cy="589.00" r="6.23" fill="#000"/>
<text x="228.91" y="596.4" font-size="21" fill="#595959" font-family="'Liberation Sans', sans-serif" textLength="37.5" lengthAdjust="spacingAndGlyphs">β=0</text>
<line x1="328.70" y1="589.00" x2="403.50" y2="589.00" stroke="#000" stroke-width="3.0" stroke-linecap="round" stroke-dasharray="6.30 6.10"/>
<rect x="359.60" y="582.60" width="12.79" height="12.79" fill="#000"/>
<text x="412.91" y="596.4" font-size="21" fill="#595959" font-family="'Liberation Sans', sans-serif" textLength="49.6" lengthAdjust="spacingAndGlyphs">β=30</text>
<line x1="511.50" y1="589.00" x2="587.00" y2="589.00" stroke="#000" stroke-width="3.0" stroke-linecap="round" stroke-dasharray="21.80 12.30 0.10 12.30 0.10 12.30"/>
<path d="M542.15 589.00L549.20 581.95L556.25 589.00L549.20 596.05Z" fill="#000"/>
<text x="595.71" y="596.4" font-size="21" fill="#595959" font-family="'Liberation Sans', sans-serif" textLength="49.6" lengthAdjust="spacingAndGlyphs">β=60</text>
<line x1="145.50" y1="616.00" x2="220.00" y2="616.00" stroke="#000" stroke-width="3.0" stroke-linecap="round" stroke-dasharray="0.10 6.10"/>
<circle cx="183.20" cy="616.00" r="5.85" fill="none" stroke="#000" stroke-width="2.3"/>
<text x="228.91" y="623.4" font-size="21" fill="#595959" font-family="'Liberation Sans', sans-serif" textLength="49.6" lengthAdjust="spacingAndGlyphs">β=90</text>
<line x1="328.70" y1="616.00" x2="403.50" y2="616.00" stroke="#000" stroke-width="3.0" stroke-linecap="round" stroke-dasharray="9.40 12.30 0.10 12.30"/>
<path d="M366.5 609.7L372.6 616.0L366.0 622.3L359.7 616.0" fill="none" stroke="#000" stroke-width="2.3" stroke-linejoin="miter"/>
<text x="412.91" y="623.4" font-size="21" fill="#595959" font-family="'Liberation Sans', sans-serif" textLength="61.8" lengthAdjust="spacingAndGlyphs">β=120</text>
<line x1="511.50" y1="616.00" x2="587.00" y2="616.00" stroke="#000" stroke-width="3.0" stroke-linecap="round" stroke-dasharray="21.80 12.30"/>
<rect x="543.09" y="609.89" width="12.21" height="12.21" fill="none" stroke="#000" stroke-width="2.3"/>
<text x="595.71" y="623.4" font-size="21" fill="#595959" font-family="'Liberation Sans', sans-serif" textLength="61.8" lengthAdjust="spacingAndGlyphs">β=130</text>
<line x1="145.50" y1="643.80" x2="220.00" y2="643.80" stroke="#000" stroke-width="3.0" stroke-linecap="round" stroke-dasharray="21.80 12.30 0.10 12.30"/>
<path d="M184.2 638.2L189.8 650.0L177.6 650.0" fill="none" stroke="#000" stroke-width="2.3" stroke-linejoin="miter"/>
<text x="228.91" y="651.2" font-size="21" fill="#595959" font-family="'Liberation Sans', sans-serif" textLength="61.8" lengthAdjust="spacingAndGlyphs">β=140</text>
<line x1="328.70" y1="643.80" x2="403.50" y2="643.80" stroke="#000" stroke-width="3.0" stroke-linecap="round"/>
<path d="M359.93 649.70L366.00 637.90L372.07 649.70Z" fill="#000"/>
<text x="412.91" y="651.2" font-size="21" fill="#595959" font-family="'Liberation Sans', sans-serif" textLength="61.8" lengthAdjust="spacingAndGlyphs">β=150</text>
<text x="224.99" y="1121.0" font-size="32.8" fill="#000" font-family="'Liberation Serif', serif" textLength="290.7" lengthAdjust="spacingAndGlyphs">(b) Reaction moment.</text>
</g>
</svg>
</body></html>
